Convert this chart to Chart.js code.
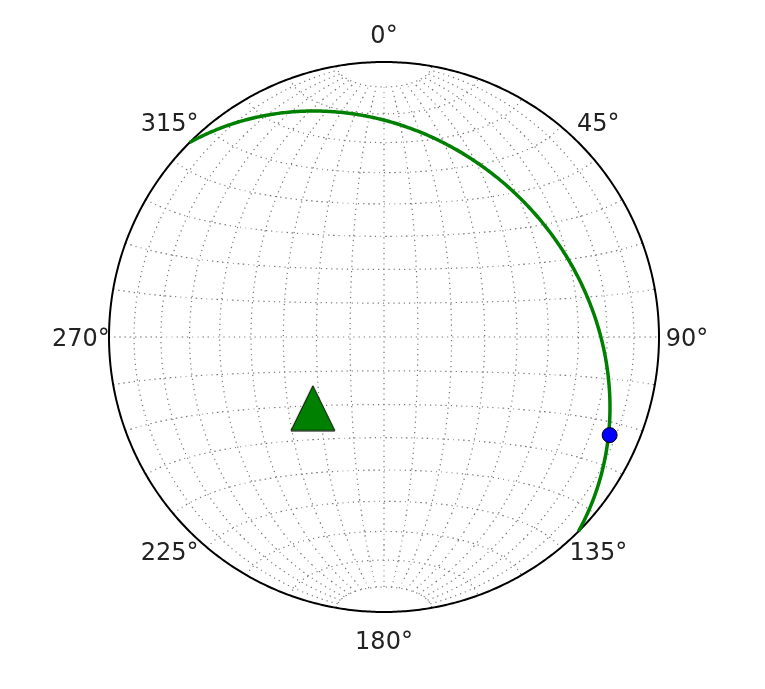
<!DOCTYPE html>
<html>
<head>
<meta charset="utf-8">
<script src="https://cdn.jsdelivr.net/npm/chart.js@4"></script>
<style>
  html, body { margin: 0; padding: 0; background: #fff; }
  canvas { display: block; }
</style>
</head>
<body>
<canvas id="stereonet" width="765" height="689"></canvas>
<script>
// plane (right-hand rule) and its pole
const planeStrikes = [315];
const planeDips = [30];
// lineation plotted as a dot
const lineBearings = [113.5];
const linePlunges = [11.5];
// net spacing and rim labels
const gridLons = [-80, -70, -60, -50, -40, -30, -20, -10, 0, 10, 20, 30, 40, 50, 60, 70, 80];
const gridLats = [-80, -70, -60, -50, -40, -30, -20, -10, 0, 10, 20, 30, 40, 50, 60, 70, 80];
const labelAngles = [0, 45, 90, 135, 180, 225, 270, 315];

const rad = d => d * Math.PI / 180;
const deg = r => r * 180 / Math.PI;

// equal-area (Schmidt) projection of a line, lower hemisphere, unit circle
function projectLine(plunge, bearing) {
    const r = Math.SQRT2 * Math.sin(rad(90 - plunge) / 2);
    return {x: r * Math.sin(rad(bearing)), y: r * Math.cos(rad(bearing))};
}

// net lat/lon to xy (lambert azimuthal equal-area centred on 0,0)
function projectLatLon(lat, lon) {
    const f = rad(lat), l = rad(lon);
    const k = Math.sqrt(2 / (1 + Math.cos(f) * Math.cos(l))) / Math.SQRT2;
    return {x: k * Math.cos(f) * Math.sin(l), y: k * Math.sin(f)};
}

function greatCircle(strike, dip) {
    const s = rad(strike), d = rad(dip);
    const S = [Math.sin(s), Math.cos(s), 0];
    const D = [Math.cos(d) * Math.sin(s + Math.PI / 2), Math.cos(d) * Math.cos(s + Math.PI / 2), Math.sin(d)];
    const pts = [];
    for (let t = 0; t <= 180; t += 1) {
        const c = Math.cos(rad(t)), n = Math.sin(rad(t));
        const v = [c * S[0] + n * D[0], c * S[1] + n * D[1], c * S[2] + n * D[2]];
        const plunge = deg(Math.asin(Math.min(1, Math.max(0, v[2]))));
        const bearing = deg(Math.atan2(v[0], v[1]));
        pts.push(projectLine(plunge, bearing));
    }
    return pts;
}

// small tension keeps chart.js off its fast path (which flattens near-vertical runs)
function lineStyle(color, width, dash, order) {
    return {showLine: true, pointRadius: 0, borderColor: color, borderWidth: width,
            borderDash: dash, clip: false, order: order, fill: false, tension: 0.01};
}

const datasets = [];

// markers on top
const triangle = document.createElement('canvas');
triangle.width = 46;
triangle.height = 47;
(function () {
    const c = triangle.getContext('2d');
    c.beginPath();
    c.moveTo(23, 1);
    c.lineTo(45, 46);
    c.lineTo(1, 46);
    c.closePath();
    c.fillStyle = '#008000';
    c.fill();
    c.lineWidth = 1;
    c.strokeStyle = '#000';
    c.stroke();
})();

datasets.push({
    data: planeStrikes.map((s, i) => projectLine(90 - planeDips[i], s - 90)),
    pointStyle: triangle, pointRadius: 23, clip: false, order: 0, showLine: false
});
datasets.push({
    data: lineBearings.map((b, i) => projectLine(linePlunges[i], b)),
    pointStyle: 'circle', pointRadius: 7.5, backgroundColor: '#0000ff',
    borderColor: '#000', borderWidth: 1, clip: false, order: 0, showLine: false
});

planeStrikes.forEach((s, i) => {
    datasets.push(Object.assign({data: greatCircle(s, planeDips[i])}, lineStyle('#008000', 3.5, [], 1)));
});

// primitive circle
[-90, 90].forEach(lon => {
    const pts = [];
    for (let lat = -90; lat <= 90; lat += 1) pts.push(projectLatLon(lat, lon));
    datasets.push(Object.assign({data: pts}, lineStyle('#000', 2, [], 2)));
});

// meridians and small circles
gridLons.forEach(lon => {
    const pts = [];
    for (let lat = -80; lat <= 80; lat += 1) pts.push(projectLatLon(lat, lon));
    datasets.push(Object.assign({data: pts}, lineStyle('#777', 1.2, [1.2, 4], 3)));
});
gridLats.forEach(lat => {
    const pts = [];
    for (let lon = -90; lon <= 90; lon += 1) pts.push(projectLatLon(lat, lon));
    datasets.push(Object.assign({data: pts}, lineStyle('#777', 1.2, [1.2, 4], 3)));
});

const rimLabels = {
    id: 'rimLabels',
    afterDraw(chart) {
        const ctx = chart.ctx, xs = chart.scales.x, ys = chart.scales.y;
        ctx.save();
        ctx.font = '24px "DejaVu Sans"';
        ctx.fillStyle = '#222';
        ctx.textAlign = 'center';
        ctx.textBaseline = 'alphabetic';
        labelAngles.forEach(a => {
            const px = xs.getPixelForValue(1.102 * Math.sin(rad(a)));
            const py = ys.getPixelForValue(1.102 * Math.cos(rad(a)));
            ctx.fillText(a + '°', px, py + 8.7);
        });
        ctx.restore();
    }
};

new Chart(document.getElementById('stereonet'), {
    type: 'scatter',
    data: {datasets: datasets},
    options: {
        responsive: false,
        animation: false,
        devicePixelRatio: 1,
        layout: {padding: {left: 109, right: 106, top: 62, bottom: 77}},
        scales: {
            x: {type: 'linear', min: -1, max: 1, display: false},
            y: {type: 'linear', min: -1, max: 1, display: false}
        },
        plugins: {legend: {display: false}, tooltip: {enabled: false}}
    },
    plugins: [rimLabels]
});
</script>
</body>
</html>
